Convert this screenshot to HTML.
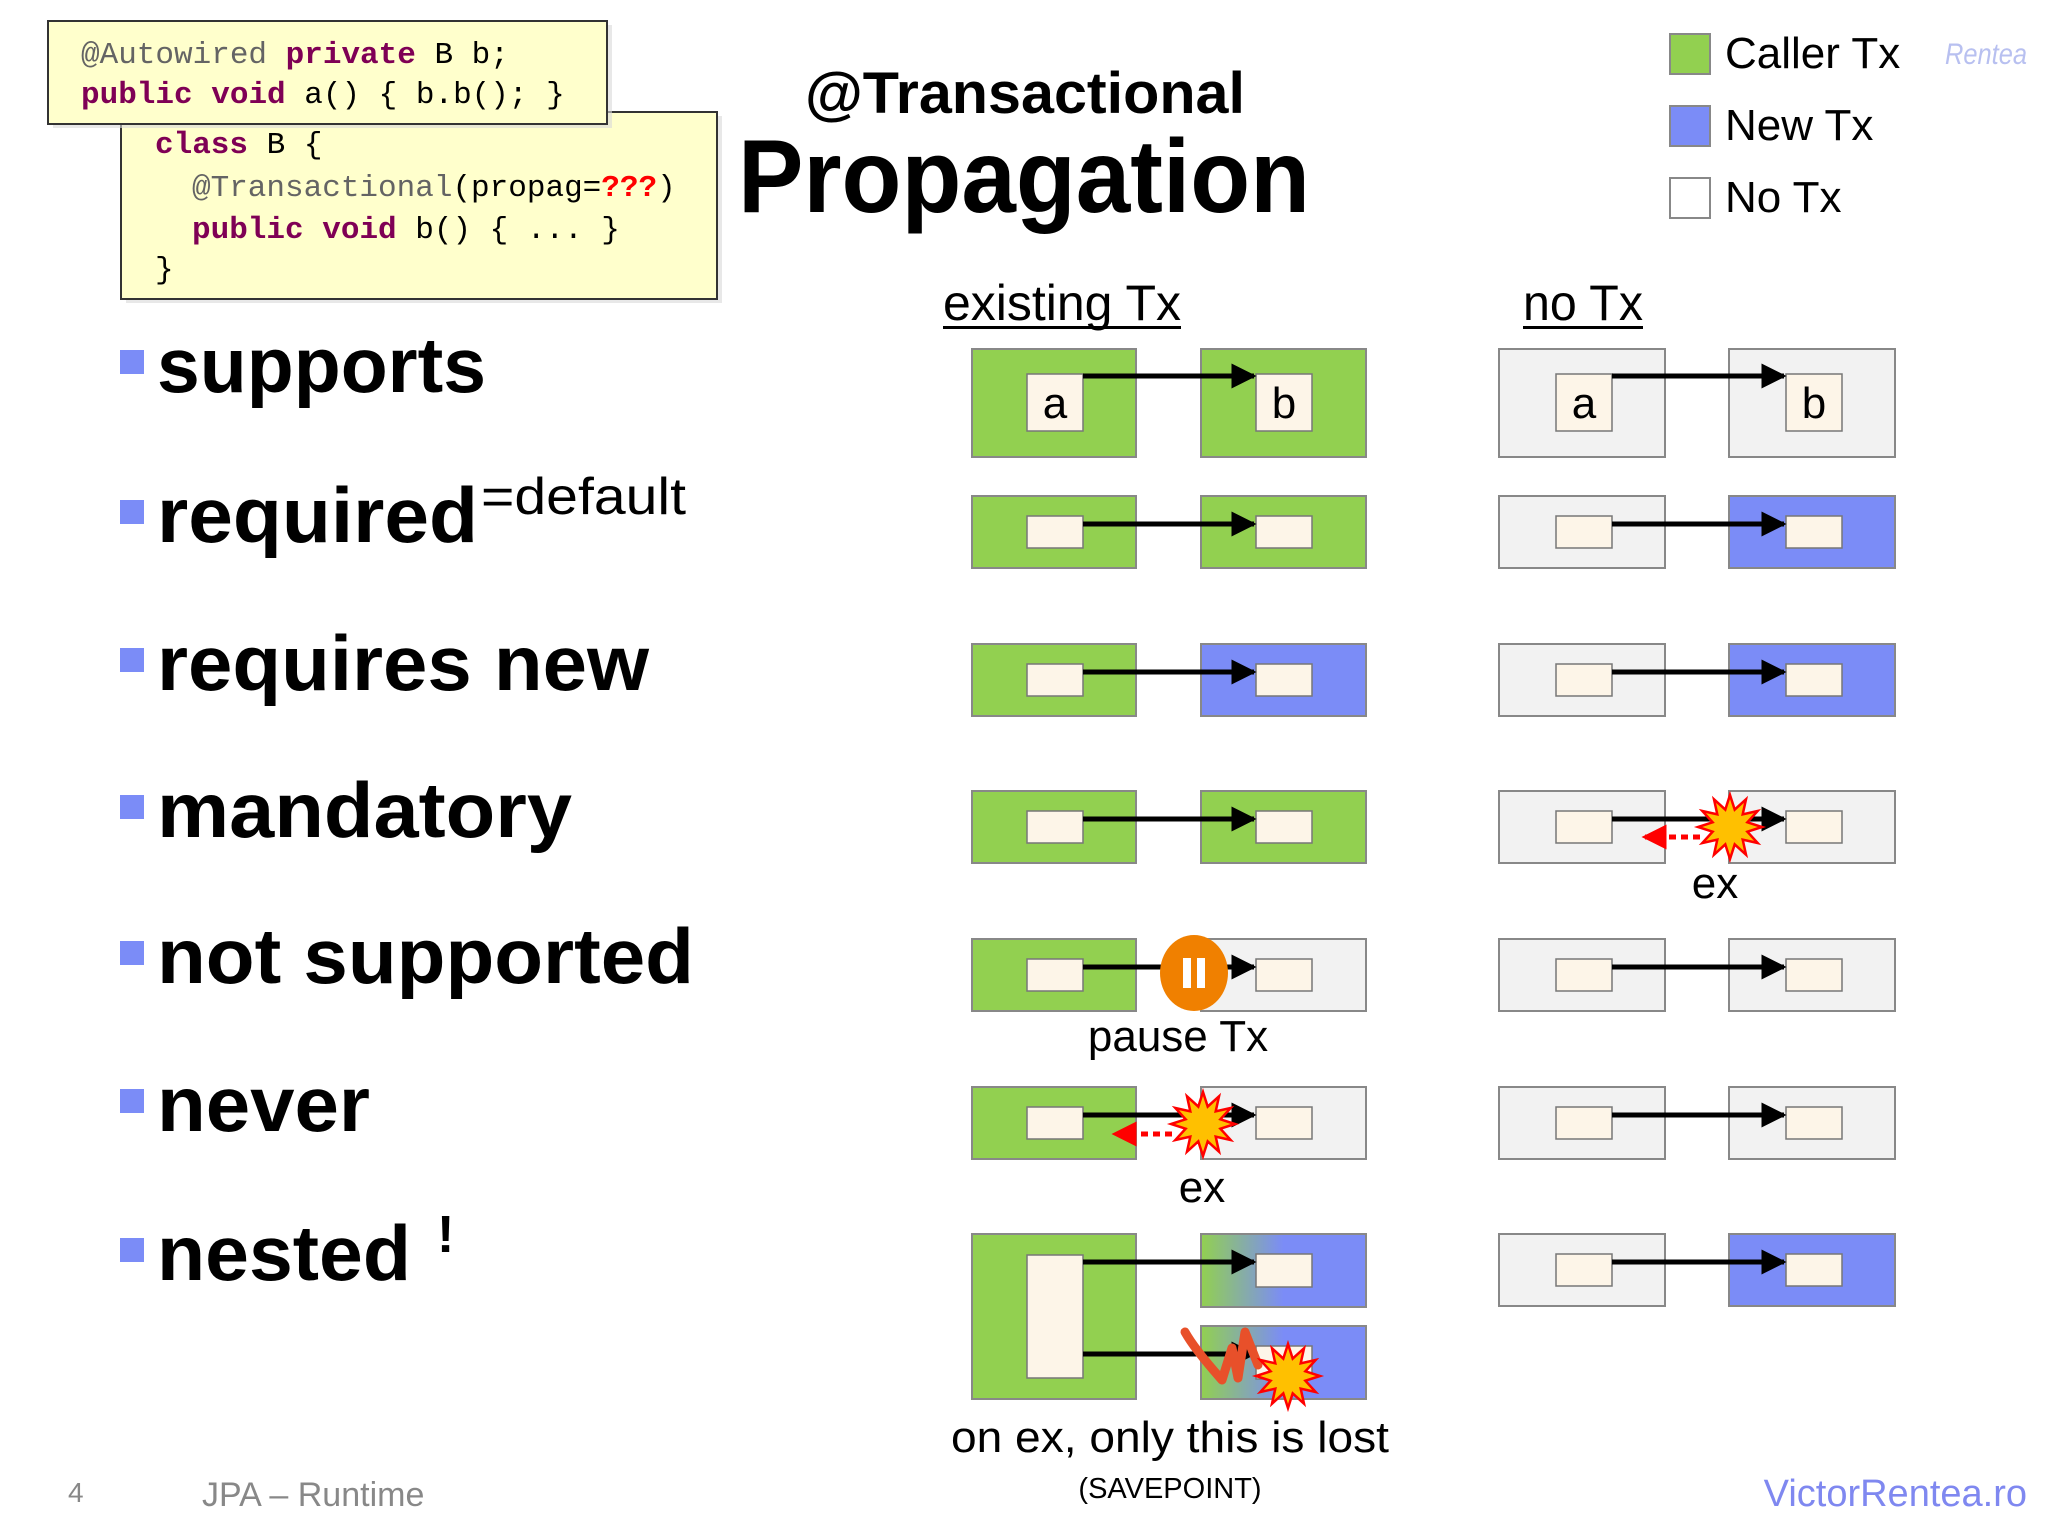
<!DOCTYPE html>
<html><head><meta charset="utf-8"><style>
html,body{margin:0;padding:0;background:#fff}
svg{display:block}
text{font-family:"Liberation Sans",sans-serif}
.mono{font-family:"Liberation Mono",monospace;font-size:31px}
.kw{fill:#7f0055;font-weight:bold}
.an{fill:#646464}
</style></head><body>
<svg width="2048" height="1536" viewBox="0 0 2048 1536" xmlns="http://www.w3.org/2000/svg">
<defs>
<marker id="ah" markerWidth="5" markerHeight="5" refX="4.5" refY="2.5" orient="auto" markerUnits="strokeWidth"><path d="M0,0 L5,2.5 L0,5 z" fill="#000"/></marker>
<marker id="rh" markerWidth="5" markerHeight="5" refX="4.5" refY="2.5" orient="auto" markerUnits="strokeWidth"><path d="M0,0 L5,2.5 L0,5 z" fill="#f00"/></marker>
<linearGradient id="gb" x1="0" x2="1" y1="0" y2="0"><stop offset="0" stop-color="#92d050"/><stop offset="0.5" stop-color="#7b8cf7"/><stop offset="1" stop-color="#7b8cf7"/></linearGradient>
<polygon id="star" points="32,0 17.4,4.7 27.7,16 12.7,12.7 16,27.7 4.7,17.4 0,32 -4.7,17.4 -16,27.7 -12.7,12.7 -27.7,16 -17.4,4.7 -32,0 -17.4,-4.7 -27.7,-16 -12.7,-12.7 -16,-27.7 -4.7,-17.4 0,-32 4.7,-17.4 16,-27.7 12.7,-12.7 27.7,-16 17.4,-4.7" fill="#ffc000" stroke="#f00" stroke-width="2.5"/>
</defs>

<rect x="126" y="116" width="596" height="187" fill="#d8d8d8" opacity="0.6"/>
<rect x="121" y="112" width="596" height="187" fill="#ffffcc" stroke="#333" stroke-width="2"/>
<text class="mono" x="155" y="153"><tspan class="kw">class</tspan> B {</text>
<text class="mono" x="192" y="196"><tspan class="an">@Transactional</tspan>(propag=<tspan fill="#f00" font-weight="bold">???</tspan>)</text>
<text class="mono" x="192" y="238"><tspan class="kw">public</tspan> <tspan class="kw">void</tspan> b() { ... }</text>
<text class="mono" x="155" y="278">}</text>
<rect x="53" y="25" width="559" height="103" fill="#d8d8d8" opacity="0.6"/>
<rect x="48" y="21" width="559" height="103" fill="#ffffcc" stroke="#333" stroke-width="2"/>
<text class="mono" x="81" y="63"><tspan class="an">@Autowired</tspan> <tspan class="kw">private</tspan> B b;</text>
<text class="mono" x="81" y="103"><tspan class="kw">public</tspan> <tspan class="kw">void</tspan> a() { b.b(); }</text>

<text x="805" y="113" font-size="58" font-weight="bold" textLength="440" lengthAdjust="spacingAndGlyphs">@Transactional</text>
<text x="738" y="212" font-size="104" font-weight="bold" textLength="572" lengthAdjust="spacingAndGlyphs">Propagation</text>

<rect x="1670" y="34" width="40" height="40" fill="#92d050" stroke="#888" stroke-width="2"/>
<rect x="1670" y="106" width="40" height="40" fill="#7b8cf7" stroke="#888" stroke-width="2"/>
<rect x="1670" y="178" width="40" height="40" fill="#fff" stroke="#888" stroke-width="2"/>
<text x="1725" y="68" font-size="44">Caller Tx</text>
<text x="1725" y="140" font-size="44">New Tx</text>
<text x="1725" y="212" font-size="44">No Tx</text>
<text x="1945" y="64" font-size="30" fill="#b8c0f0" font-style="italic" font-family="Liberation Serif, serif" textLength="82" lengthAdjust="spacingAndGlyphs">Rentea</text>

<g fill="#7b8cf7">
<rect x="120" y="350" width="24" height="24"/><rect x="120" y="500" width="24" height="24"/>
<rect x="120" y="648" width="24" height="24"/><rect x="120" y="795" width="24" height="24"/>
<rect x="120" y="941" width="24" height="24"/><rect x="120" y="1089" width="24" height="24"/>
<rect x="120" y="1238" width="24" height="24"/>
</g>
<g font-size="78" font-weight="bold">
<text x="157" y="392" textLength="329" lengthAdjust="spacingAndGlyphs">supports</text>
<text x="157" y="542" textLength="321" lengthAdjust="spacingAndGlyphs">required</text>
<text x="157" y="690" textLength="492" lengthAdjust="spacingAndGlyphs">requires new</text>
<text x="157" y="837" textLength="415" lengthAdjust="spacingAndGlyphs">mandatory</text>
<text x="157" y="983" textLength="537" lengthAdjust="spacingAndGlyphs">not supported</text>
<text x="157" y="1131" textLength="213" lengthAdjust="spacingAndGlyphs">never</text>
<text x="157" y="1280" textLength="254" lengthAdjust="spacingAndGlyphs">nested</text>
</g>
<text x="481" y="514" font-size="52" textLength="205" lengthAdjust="spacingAndGlyphs">=default</text>
<text x="437" y="1252" font-size="52" font-weight="bold">!</text>

<text x="943" y="320" font-size="50" textLength="238" lengthAdjust="spacingAndGlyphs">existing Tx</text>
<rect x="943" y="326" width="238" height="3"/>
<text x="1523" y="320" font-size="50" textLength="120" lengthAdjust="spacingAndGlyphs">no Tx</text>
<rect x="1523" y="326" width="120" height="3"/>

<g stroke="#888" stroke-width="2">
<rect x="972" y="349" width="164" height="108" fill="#92d050"/>
<rect x="1201" y="349" width="165" height="108" fill="#92d050"/>
<rect x="1499" y="349" width="166" height="108" fill="#f2f2f2"/>
<rect x="1729" y="349" width="166" height="108" fill="#f2f2f2"/>
<rect x="972" y="496" width="164" height="72" fill="#92d050"/>
<rect x="1201" y="496" width="165" height="72" fill="#92d050"/>
<rect x="1499" y="496" width="166" height="72" fill="#f2f2f2"/>
<rect x="1729" y="496" width="166" height="72" fill="#7b8cf7"/>
<rect x="972" y="644" width="164" height="72" fill="#92d050"/>
<rect x="1201" y="644" width="165" height="72" fill="#7b8cf7"/>
<rect x="1499" y="644" width="166" height="72" fill="#f2f2f2"/>
<rect x="1729" y="644" width="166" height="72" fill="#7b8cf7"/>
<rect x="972" y="791" width="164" height="72" fill="#92d050"/>
<rect x="1201" y="791" width="165" height="72" fill="#92d050"/>
<rect x="1499" y="791" width="166" height="72" fill="#f2f2f2"/>
<rect x="1729" y="791" width="166" height="72" fill="#f2f2f2"/>
<rect x="972" y="939" width="164" height="72" fill="#92d050"/>
<rect x="1201" y="939" width="165" height="72" fill="#f2f2f2"/>
<rect x="1499" y="939" width="166" height="72" fill="#f2f2f2"/>
<rect x="1729" y="939" width="166" height="72" fill="#f2f2f2"/>
<rect x="972" y="1087" width="164" height="72" fill="#92d050"/>
<rect x="1201" y="1087" width="165" height="72" fill="#f2f2f2"/>
<rect x="1499" y="1087" width="166" height="72" fill="#f2f2f2"/>
<rect x="1729" y="1087" width="166" height="72" fill="#f2f2f2"/>
<rect x="972" y="1234" width="164" height="165" fill="#92d050"/>
<rect x="1201" y="1234" width="165" height="73" fill="url(#gb)"/>
<rect x="1201" y="1326" width="165" height="73" fill="url(#gb)"/>
<rect x="1499" y="1234" width="166" height="72" fill="#f2f2f2"/>
<rect x="1729" y="1234" width="166" height="72" fill="#7b8cf7"/>
</g>

<g fill="#fdf5e8" stroke="#777" stroke-width="1.5">
<rect x="1027" y="374" width="56" height="57"/><rect x="1256" y="374" width="56" height="57"/>
<rect x="1556" y="374" width="56" height="57"/><rect x="1786" y="374" width="56" height="57"/>
<rect x="1027" y="516" width="56" height="32"/><rect x="1256" y="516" width="56" height="32"/>
<rect x="1556" y="516" width="56" height="32"/><rect x="1786" y="516" width="56" height="32"/>
<rect x="1027" y="664" width="56" height="32"/><rect x="1256" y="664" width="56" height="32"/>
<rect x="1556" y="664" width="56" height="32"/><rect x="1786" y="664" width="56" height="32"/>
<rect x="1027" y="811" width="56" height="32"/><rect x="1256" y="811" width="56" height="32"/>
<rect x="1556" y="811" width="56" height="32"/><rect x="1786" y="811" width="56" height="32"/>
<rect x="1027" y="959" width="56" height="32"/><rect x="1256" y="959" width="56" height="32"/>
<rect x="1556" y="959" width="56" height="32"/><rect x="1786" y="959" width="56" height="32"/>
<rect x="1027" y="1107" width="56" height="32"/><rect x="1256" y="1107" width="56" height="32"/>
<rect x="1556" y="1107" width="56" height="32"/><rect x="1786" y="1107" width="56" height="32"/>
<rect x="1027" y="1255" width="56" height="123"/><rect x="1256" y="1254" width="56" height="33"/>
<rect x="1256" y="1346" width="56" height="33"/>
<rect x="1556" y="1254" width="56" height="32"/><rect x="1786" y="1254" width="56" height="32"/>
</g>
<text x="1055" y="418" font-size="44" text-anchor="middle">a</text>
<text x="1284" y="418" font-size="44" text-anchor="middle">b</text>
<text x="1584" y="418" font-size="44" text-anchor="middle">a</text>
<text x="1814" y="418" font-size="44" text-anchor="middle">b</text>

<g stroke="#000" stroke-width="5" marker-end="url(#ah)">
<line x1="1083" y1="376" x2="1254" y2="376"/><line x1="1612" y1="376" x2="1784" y2="376"/>
<line x1="1083" y1="524" x2="1254" y2="524"/><line x1="1612" y1="524" x2="1784" y2="524"/>
<line x1="1083" y1="672" x2="1254" y2="672"/><line x1="1612" y1="672" x2="1784" y2="672"/>
<line x1="1083" y1="819" x2="1254" y2="819"/><line x1="1612" y1="819" x2="1784" y2="819"/>
<line x1="1083" y1="967" x2="1254" y2="967"/><line x1="1612" y1="967" x2="1784" y2="967"/>
<line x1="1083" y1="1115" x2="1254" y2="1115"/><line x1="1612" y1="1115" x2="1784" y2="1115"/>
<line x1="1083" y1="1262" x2="1254" y2="1262"/><line x1="1612" y1="1262" x2="1784" y2="1262"/>
<line x1="1083" y1="1354" x2="1254" y2="1354"/>
</g>

<ellipse cx="1194" cy="973" rx="34" ry="38" fill="#f08000"/>
<rect x="1183" y="958" width="8" height="30" fill="#fff"/><rect x="1197" y="958" width="8" height="30" fill="#fff"/>
<text x="1178" y="1051" font-size="44" text-anchor="middle">pause Tx</text>

<line x1="1700" y1="837" x2="1644" y2="837" stroke="#f00" stroke-width="5" stroke-dasharray="7,5" marker-end="url(#rh)"/>
<use href="#star" transform="translate(1730,827)"/>
<text x="1715" y="898" font-size="44" text-anchor="middle">ex</text>
<line x1="1172" y1="1134" x2="1114" y2="1134" stroke="#f00" stroke-width="5" stroke-dasharray="7,5" marker-end="url(#rh)"/>
<use href="#star" transform="translate(1203,1124)"/>
<text x="1202" y="1202" font-size="44" text-anchor="middle">ex</text>
<path d="M1185,1332 C1195,1350 1215,1372 1222,1380 L1232,1348 L1238,1378 L1245,1332 L1258,1365" fill="none" stroke="#e8502a" stroke-width="9" stroke-linecap="round" stroke-linejoin="round"/>
<use href="#star" transform="translate(1288,1376)"/>

<text x="1170" y="1452" font-size="44" text-anchor="middle" textLength="438" lengthAdjust="spacingAndGlyphs">on ex, only this is lost</text>
<text x="1170" y="1498" font-size="29" text-anchor="middle">(SAVEPOINT)</text>

<text x="68" y="1502" font-size="28" fill="#888">4</text>
<text x="202" y="1506" font-size="34" fill="#888">JPA – Runtime</text>
<text x="2027" y="1506" font-size="38" fill="#7f88f0" text-anchor="end">VictorRentea.ro</text>
</svg>
</body></html>
